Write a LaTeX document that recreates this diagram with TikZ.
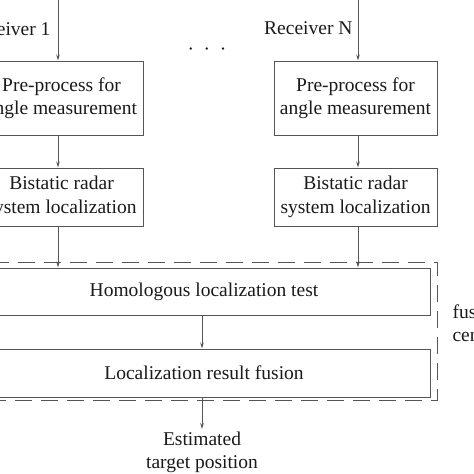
\documentclass[tikz,border=0pt]{standalone}
\usepackage{fontspec}
\setmainfont{Liberation Serif}
\usetikzlibrary{arrows.meta}
\definecolor{linec}{HTML}{555555}
\definecolor{textc}{HTML}{1A1A1A}
\begin{document}
\begin{tikzpicture}[x=1pt,y=-1pt,
  font=\fontsize{19.5pt}{23.5pt}\selectfont,
  every node/.style={text=textc},
  procbox/.style={draw=linec,line width=1pt,align=center,inner sep=0pt,minimum width=163pt},
  widebox/.style={draw=linec,line width=1pt,align=center,inner sep=0pt,minimum width=452pt},
  conn/.style={draw=linec,line width=1pt,-{Stealth[length=6pt,width=3.5pt]}},
  fusebox/.style={draw=linec,line width=1pt,dash pattern=on 17pt off 9pt}
]
\useasboundingbox (0,0) rectangle (474,474);
\clip (0,0) rectangle (474,474);
\coordinate (t1) at (58,-5);
\coordinate (tN) at (358,-5);
\coordinate (tm) at (202,0);
\node[anchor=east] (r1) at (54,29) {Receiver 1};
\node[anchor=east] (rN) at (356,28) {Receiver N};
\node (dots) at (207,52) {·\kern 9.6pt·\kern 9.6pt·};
\node[procbox,minimum height=74pt] (p1) at (61.5,98) {Pre-process for\\angle measurement};
\node[procbox,minimum height=74pt] (pN) at (355.5,98) {Pre-process for\\angle measurement};
\node[procbox,minimum height=58pt] (b1) at (61.5,197) {Bistatic radar\\system localization};
\node[procbox,minimum height=58pt] (bN) at (355.5,197) {Bistatic radar\\system localization};
\draw[fusebox] (-29,262) rectangle (437,400);
\node[widebox,minimum height=47pt] (h) at (204,291.5) {Homologous localization test};
\node[widebox,minimum height=48pt] (l) at (204,373) {Localization result fusion};
\node[align=center,anchor=north] (est) at (202,428) {Estimated\\target position};
\node[align=left,anchor=west] (fc) at (449,323) {fusion\\center};
\path[conn] (t1) -- (t1 |- p1.north);
\path[conn] (tN) -- (tN |- pN.north);
\path[conn] (p1.south -| t1) -- (b1.north -| t1);
\path[conn] (pN.south -| tN) -- (bN.north -| tN);
\path[conn] (b1.south -| t1) -- (h.north -| t1);
\path[conn] (bN.south -| tN) -- (h.north -| tN);
\path[conn] (h.south -| tm) -- (l.north -| tm);
\path[conn] (l.south -| tm) -- ([yshift=-1pt]est.north -| tm);
\end{tikzpicture}
\end{document}
